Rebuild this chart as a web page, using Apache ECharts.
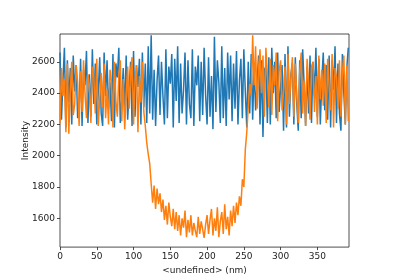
<!DOCTYPE html>
<html>
<head>
<meta charset="utf-8">
<script src="https://cdn.jsdelivr.net/npm/echarts@6/dist/echarts.min.js"></script>
<style>
  html, body { margin: 0; padding: 0; background: #fff; }
  #chart { width: 400px; height: 280px; }
</style>
</head>
<body>
<div id="chart"></div>
<script>
// sampling grid: one reading every 2 nm, starting at 0
const stepNm = 2;

// blue trace
const blue = [
  2660, 2230, 2480, 2690, 2180, 2610, 2340, 2560, 2200, 2640,
  2410, 2580, 2240, 2300, 2620, 2190, 2550, 2450, 2670, 2210,
  2520, 2250, 2680, 2330, 2590, 2200, 2400, 2630, 2270, 2190,
  2660, 2380, 2610, 2300, 2470, 2220, 2650, 2180, 2590, 2500,
  2690, 2210, 2360, 2560, 2280, 2640, 2230, 2420, 2600, 2190,
  2670, 2250, 2580, 2440, 2620, 2200, 2660, 2310, 2590, 2210,
  2700, 2270, 2770, 2230, 2550, 2190, 2480, 2640, 2260, 2600,
  2380, 2200, 2680, 2240, 2570, 2460, 2650, 2180, 2620, 2350,
  2700, 2210, 2590, 2270, 2420, 2660, 2200, 2610, 2330, 2240,
  2680, 2190, 2570, 2450, 2640, 2220, 2600, 2260, 2690, 2390,
  2200, 2630, 2250, 2510, 2170, 2760, 2280, 2610, 2470, 2210,
  2700, 2240, 2560, 2190, 2660, 2360, 2640, 2220, 2590, 2300,
  2670, 2200, 2480, 2620, 2240, 2680, 2410, 2180, 2600, 2270,
  2650, 2230, 2580, 2290, 2460, 2640, 2200, 2610, 2120, 2550,
  2570, 2210, 2630, 2200, 2690, 2400, 2600, 2240, 2660, 2280,
  2440, 2580, 2160, 2650, 2180, 2700, 2250, 2520, 2590, 2200,
  2630, 2330, 2160, 2610, 2240, 2680, 2450, 2190, 2570, 2270,
  2640, 2210, 2600, 2380, 2690, 2250, 2620, 2200, 2480, 2660,
  2290, 2580, 2230, 2640, 2180, 2610, 2420, 2700, 2210, 2590,
  2270, 2160, 2650, 2400, 2200, 2560, 2690
];

// orange trace, with the dip between ~120 and ~255 nm
const orange = [
  2210, 2560, 2380, 2490, 2150, 2590, 2140, 2420, 2600, 2260,
  2330, 2580, 2470, 2190, 2540, 2280, 2610, 2400, 2240, 2520,
  2450, 2210, 2570, 2500, 2270, 2620, 2190, 2360, 2530, 2310,
  2590, 2240, 2420, 2200, 2550, 2470, 2180, 2600, 2350, 2250,
  2520, 2610, 2220, 2490, 2170, 2400, 2570, 2300, 2540, 2630,
  2200, 2480, 2580, 2150, 2510, 2340, 2600, 2280, 2190, 2080,
  2010, 1950, 1820, 1700, 1810, 1660, 1790, 1690, 1760, 1640,
  1720, 1590, 1680, 1560, 1700, 1610, 1550, 1660, 1530, 1640,
  1520, 1620, 1490, 1600, 1540, 1650, 1480, 1590, 1510, 1620,
  1490, 1570, 1520, 1480, 1610, 1500, 1580, 1530, 1475, 1560,
  1620, 1500, 1590, 1660, 1490, 1600, 1520, 1670, 1480, 1580,
  1640, 1500, 1690, 1530, 1610, 1490, 1650, 1550, 1680, 1570,
  1700, 1620, 1740, 1680, 1850, 1800, 2040, 2150, 2310, 2460,
  2380, 2770, 2450, 2700, 2300, 2560, 2680, 2400, 2640, 2250,
  2690, 2520, 2310, 2620, 2260, 2580, 2450, 2660, 2220, 2540,
  2610, 2290, 2410, 2570, 2200, 2650, 2330, 2500, 2630, 2250,
  2590, 2380, 2210, 2540, 2660, 2270, 2480, 2190, 2620, 2460,
  2230, 2570, 2600, 2280, 2510, 2200, 2640, 2360, 2550, 2320,
  2590, 2210, 2620, 2440, 2290, 2650, 2180, 2560, 2500, 2300,
  2610, 2250, 2530, 2640, 2200, 2580, 2220
];

const xTicks = [0, 50, 100, 150, 200, 250, 300, 350];
const yTicks = [1600, 1800, 2000, 2200, 2400, 2600];

const pairs = arr => arr.map((v, i) => [i * stepNm, v]);

const chart = echarts.init(document.getElementById('chart'));
const txt = { fontFamily: 'DejaVu Sans', fontSize: 9, color: '#222' };

chart.setOption({
  animation: false,
  grid: {
    left: 60, right: 51, top: 34, bottom: 31,
    show: true, borderColor: '#222', borderWidth: 0.8
  },
  xAxis: {
    type: 'value', min: 0, max: 393,
    name: '<undefined> (nm)', nameLocation: 'middle', nameGap: 16,
    nameTextStyle: txt,
    splitLine: { show: false },
    axisLine: { show: false },
    axisTick: { show: true, length: 3, customValues: xTicks, lineStyle: { color: '#222', width: 0.8 } },
    axisLabel: Object.assign({ margin: 5, customValues: xTicks, formatter: v => String(v) }, txt)
  },
  yAxis: {
    type: 'value', min: 1416, max: 2778,
    name: 'Intensity', nameLocation: 'middle', nameGap: 30, nameMoveOverlap: false,
    nameTextStyle: txt,
    splitLine: { show: false },
    axisLine: { show: false },
    axisTick: { show: true, length: 3, customValues: yTicks, lineStyle: { color: '#222', width: 0.8 } },
    axisLabel: Object.assign({ margin: 5, customValues: yTicks, formatter: v => String(v) }, txt)
  },
  series: [
    { type: 'line', data: pairs(blue), showSymbol: false, lineStyle: { color: '#1f77b4', width: 1.5 } },
    { type: 'line', data: pairs(orange), showSymbol: false, lineStyle: { color: '#ff7f0e', width: 1.5 } }
  ]
});
</script>
</body>
</html>
